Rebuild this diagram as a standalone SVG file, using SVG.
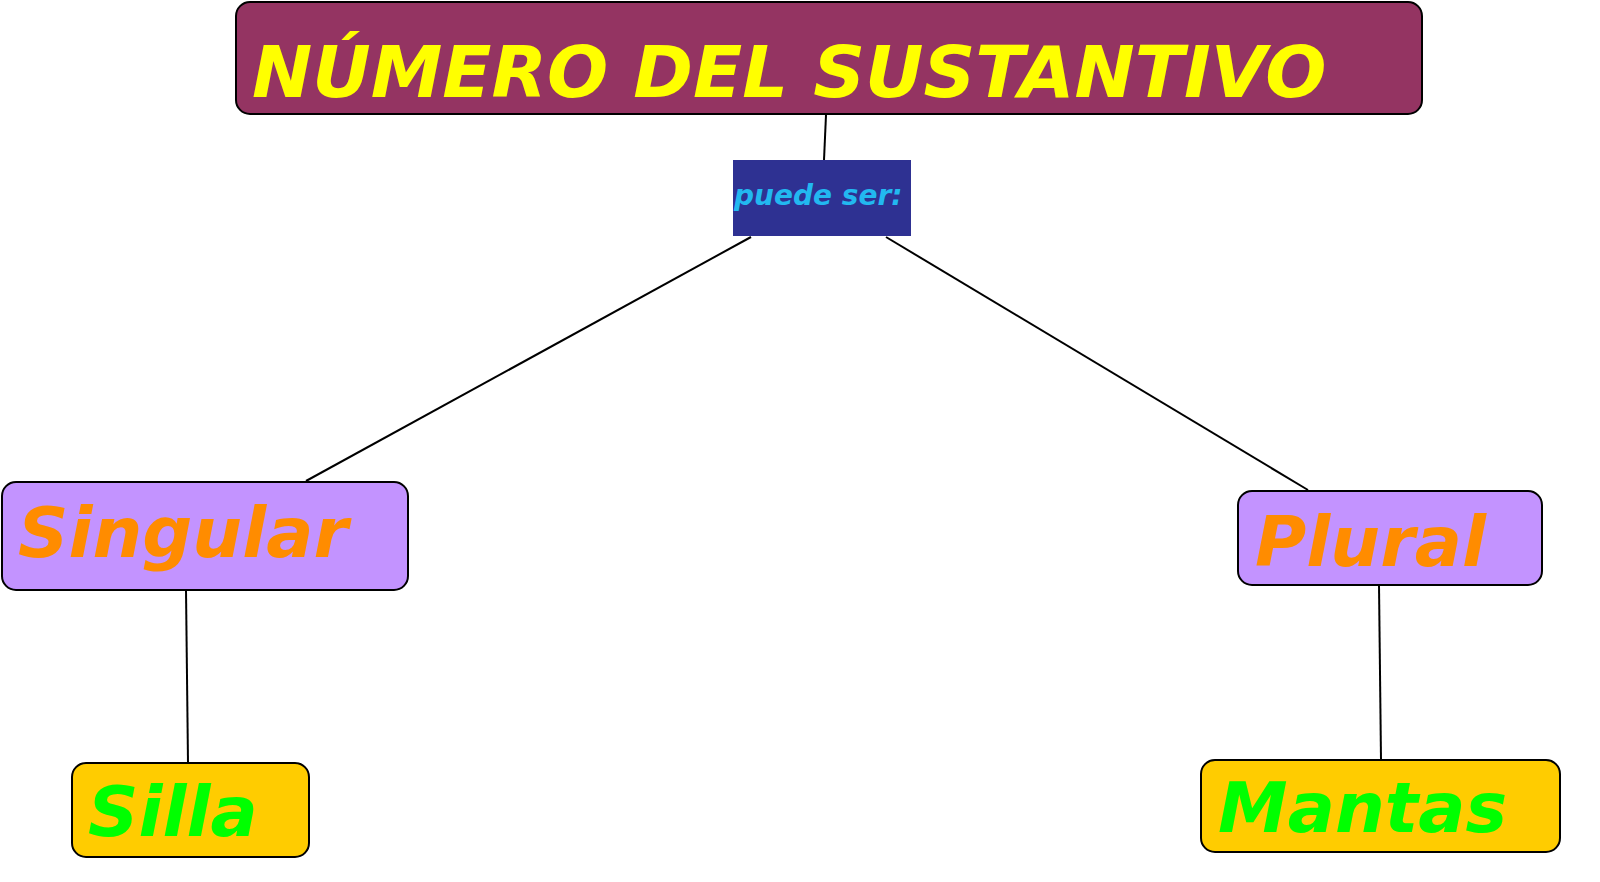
<svg xmlns="http://www.w3.org/2000/svg" width="1600" height="882" viewBox="0 0 1600 882">
<style>
.n{stroke:#000;stroke-width:2}
text{font-family:"DejaVu Sans",Verdana,sans-serif;font-weight:bold;font-style:italic}
.c line{stroke:#000;stroke-width:2}
</style>
<rect width="1600" height="882" fill="#fff"/>
<g class="c">
<line x1="826" y1="115" x2="824" y2="160"/>
<line x1="751" y1="237" x2="306" y2="481"/>
<line x1="886" y1="237" x2="1308" y2="490"/>
<line x1="186" y1="590" x2="188" y2="763"/>
<line x1="1379" y1="585" x2="1381" y2="760"/>
</g>
<g id="titulo"><rect class="n" x="236" y="2" width="1186" height="112" rx="14" fill="#943462"/><text x="252" y="97" font-size="72" fill="#FFFF00">NÚMERO DEL SUSTANTIVO</text></g>
<g id="puede"><rect x="733" y="160" width="178" height="76" fill="#2E3192"/><text x="734" y="205" font-size="28" fill="#22B8F0">puede ser:</text></g>
<g id="singular"><rect class="n" x="2" y="482" width="406" height="108" rx="14" fill="#C393FF"/><text x="18" y="557" font-size="70" fill="#FF8C00">Singular</text></g>
<g id="plural"><rect class="n" x="1238" y="491" width="304" height="94" rx="14" fill="#C393FF"/><text x="1255" y="566" font-size="70" fill="#FF8C00">Plural</text></g>
<g id="silla"><rect class="n" x="72" y="763" width="237" height="94" rx="14" fill="#FFCC00"/><text x="88" y="836" font-size="70" fill="#00FF00">Silla</text></g>
<g id="mantas"><rect class="n" x="1201" y="760" width="359" height="92" rx="14" fill="#FFCC00"/><text x="1218" y="832" font-size="70" fill="#00FF00">Mantas</text></g>
</svg>
